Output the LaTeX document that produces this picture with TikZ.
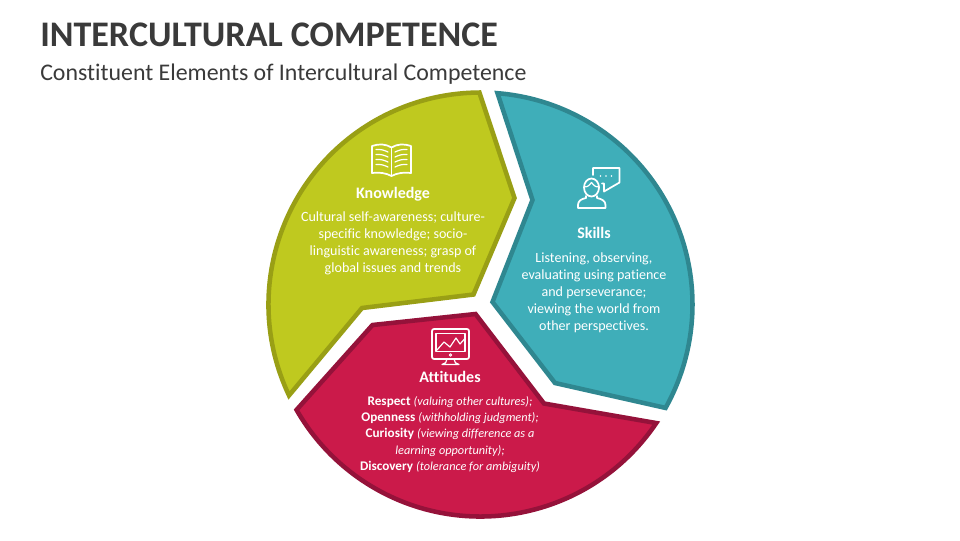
\documentclass[tikz,border=0pt]{standalone}
\usepackage{fontspec}
\setmainfont{Carlito}[Ligatures=NoCommon]
\usetikzlibrary{calc}
\definecolor{knowfill}{HTML}{BFC91F}
\definecolor{knowline}{HTML}{999F15}
\definecolor{skillfill}{HTML}{3FAEB9}
\definecolor{skillline}{HTML}{2F8790}
\definecolor{attfill}{HTML}{CB1A4A}
\definecolor{attline}{HTML}{95123A}
\definecolor{headtext}{HTML}{3A3A3A}
\tikzset{
    knowseg/.style={fill=knowfill, draw=knowline, line width=3.4pt, miter limit=20},
    skillseg/.style={fill=skillfill, draw=skillline, line width=3.4pt, miter limit=20},
    attseg/.style={fill=attfill, draw=attline, line width=3.4pt, miter limit=20},
    icon/.style={draw=white, line width=1.3pt, line join=round, line cap=round},
    segtitle/.style={text=white, font=\fontsize{12}{14}\selectfont\bfseries, inner sep=0pt},
    segbody/.style={text=white, align=center, inner sep=0pt, font=\fontsize{10.55}{12.75}\selectfont},
}
\newcommand{\attnote}[1]{{\fontsize{9.2}{12}\selectfont\itshape #1}}
\begin{document}
\begin{tikzpicture}[x=0.75pt,y=0.75pt]
    \useasboundingbox (0,0) rectangle (960,-540);
    \fill[white] (0,0) rectangle (960,-540);
    \coordinate (c) at (480.5,-304.5);
    \def\rad{212}
    % headings
    \node[anchor=west, inner sep=0pt, text=headtext, font=\fontsize{27}{30}\selectfont\bfseries] (title) at (40,-35) {INTERCULTURAL COMPETENCE};
    \node[anchor=west, inner sep=0pt, text=headtext, font=\fontsize{17.9}{20}\selectfont] (subtitle) at (40,-74) {Constituent Elements of Intercultural Competence};
    % segments
    \draw[knowseg] ([shift={(c)}]205.4:\rad) arc[start angle=205.4, end angle=90.3, radius=\rad]
        -- (514.5,-198) -- (473.5,-294.5) -- (362,-308) -- cycle;
    \draw[skillseg] ([shift={(c)}]85.4:\rad) arc[start angle=85.4, end angle=-29.2, radius=\rad]
        -- (555,-383) -- (492.5,-302) -- (532.5,-200) -- cycle;
    \draw[attseg] ([shift={(c)}]-34:\rad) arc[start angle=-34, end angle=-150.2, radius=\rad]
        -- (372.5,-325) -- (475.5,-314) -- (544,-403.5) -- cycle;
    % Knowledge
    \node[segtitle] (knowhead) at (393,-194) {Knowledge};
    \node[segbody] (knowtext) at (393,-243) {Cultural self-awareness; culture-\\specific knowledge; socio-\\linguistic awareness; grasp of\\global issues and trends};
    % Skills
    \node[segtitle] (skillhead) at (594,-233) {Skills};
    \node[segbody] (skilltext) at (594,-293) {Listening, observing,\\evaluating using patience\\and perseverance;\\viewing the world from\\other perspectives.};
    % Attitudes
    \node[segtitle] (atthead) at (450,-377) {Attitudes};
    \node[segbody, font=\fontsize{9.9}{12.2}\selectfont] (atttext) at (450,-434.5) {\textbf{Respect} \attnote{(valuing other cultures);}\\\textbf{Openness} \attnote{(withholding judgment);}\\\textbf{Curiosity} \attnote{(viewing difference as a}\\\attnote{learning opportunity);}\\\textbf{Discovery} \attnote{(tolerance for ambiguity)}};
    % book icon
    \draw[icon] (372,-146) .. controls (379,-143.5) and (386,-144) .. (391.5,-147.5)
        .. controls (397,-144) and (404,-143.5) .. (411,-146) -- (411,-173)
        .. controls (404,-172) and (397,-173) .. (391.5,-176)
        .. controls (386,-173) and (379,-172) .. (372,-173) -- cycle;
    \draw[icon] (391.5,-147.5) -- (391.5,-176);
    \foreach \y in {149.5,154.5,159.5,164.5} {
        \draw[icon, line width=0.9pt] (376,-\y) .. controls (380,-\y+0.5) and (384,-\y-0.5) .. (388,-\y-2.5);
        \draw[icon, line width=0.9pt] (407,-\y) .. controls (403,-\y+0.5) and (399,-\y-0.5) .. (395,-\y-2.5);
    }
    % person icon
    \draw[icon] (593,-175) -- (593,-168) -- (619.5,-168) -- (619.5,-182.5) -- (604,-191.5) -- (604,-183.5) -- (602,-183.5);
    \foreach \x in {600.5,606,611.5} \fill[white] (\x,-176) circle (0.9);
    \draw[icon] (591.5,-187.5) ellipse (7.5 and 9);
    \draw[icon, line width=0.9pt] (584,-187) .. controls (588,-187) and (590,-185) .. (591.5,-182.5) .. controls (593,-185) and (595,-187) .. (599,-187);
    \draw[icon] (586,-196) -- (586,-198) .. controls (581,-199) and (578,-201) .. (578,-205) -- (578,-208) -- (605.5,-208) -- (605.5,-205)
        .. controls (605.5,-201) and (602,-199) .. (597,-198) -- (597,-196);
    % monitor icon
    \draw[icon, rounded corners=1.5pt] (432,-329) rectangle (469,-359);
    \draw[icon, line width=0.9pt] (436,-333.5) rectangle (465,-351.5);
    \draw[icon, line width=0.9pt] (437,-350) -- (444,-342) -- (450,-347) -- (456,-338) -- (460,-344) -- (464.5,-339);
    \draw[icon, line width=0.7pt] (450.5,-355) circle (1.3);
    \draw[icon, line width=0.9pt] (447,-359) .. controls (447,-362) and (445,-364) .. (442,-364.5) -- (459,-364.5) .. controls (456,-364) and (454,-362) .. (454,-359);
\end{tikzpicture}
\end{document}
